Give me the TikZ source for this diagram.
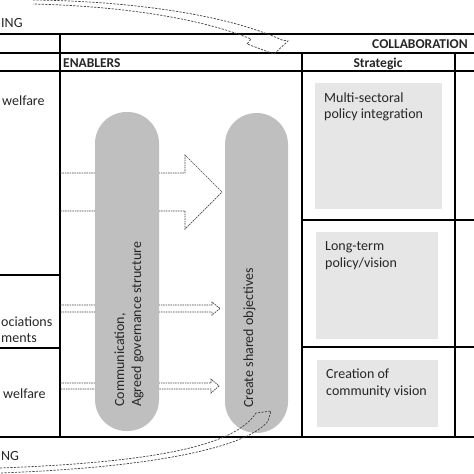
\documentclass[tikz,border=0pt]{standalone}
\usepackage{fontspec}
\setmainfont{Carlito}
\begin{document}
\begin{tikzpicture}[x=1pt,y=-1pt,
  grid/.style={line width=1.6pt, black},
  txt/.style={inner sep=0pt, anchor=base west, font=\fontsize{14}{16}\selectfont, text=black!85},
  hdr/.style={txt, font=\fontsize{13.5}{16}\selectfont\bfseries},
  pill/.style={fill=pillgray, rounded corners=31.5pt},
  boxc/.style={fill=boxgray, draw=none, inner sep=0pt, anchor=north west},
  dsh/.style={draw=black!75, line width=0.7pt, dash pattern=on 2.2pt off 1.3pt},
  dshf/.style={draw=black!75, line width=0.7pt, dash pattern=on 1.5pt off 0.9pt}]
\definecolor{pillgray}{HTML}{BFBFBF}
\definecolor{boxgray}{HTML}{E6E6E6}
\useasboundingbox (0,0) rectangle (474,474);
\fill[white] (0,0) rectangle (474,474);

% table grid
\draw[grid] (0,34) -- (474,34);
\draw[grid] (0,53) -- (474,53);
\draw[grid] (0,71) -- (474,71);
\draw[grid] (0,437) -- (474,437);
\draw[grid] (60,34) -- (60,437);
\draw[grid] (302,53) -- (302,437);
\draw[grid] (455,53) -- (455,437);
\draw[grid] (0,275) -- (60,275);
\draw[grid] (0,348) -- (60,348);
\draw[grid] (302,220) -- (474,220);
\draw[grid] (302,347) -- (474,347);

% headings
\node[txt] (plantop) at (1,27) {ING};
\node[txt] (planbot) at (1,460) {NG};
\node[hdr] (collab) at (372,48) {COLLABORATION};
\node[hdr] (enab) at (63,67) {ENABLERS};
\node[hdr, anchor=base] (strat) at (378,67) {Strategic};

% left column fragments
\node[txt] (w1) at (2,105) {welfare};
\node[txt] (as1) at (1,326) {ociations};
\node[txt] (as2) at (1,342) {ments};
\node[txt] (w2) at (3,398) {welfare};

% arrows (behind pills)
\draw[dshf] (60,173) -- (185,173) -- (185,155) -- (222,192) -- (185,229) -- (185,211) -- (60,211);
\draw[dshf] (60,305) -- (212,305) -- (212,302) -- (220,308.5) -- (212,315) -- (212,312) -- (60,312);
\draw[dshf] (60,383) -- (211,383) -- (211,379) -- (219,386) -- (211,393) -- (211,389) -- (60,389);

% pills
\path[pill] (95,112) rectangle (159,431);
\path[pill] (225,113) rectangle (288,433);
\node[txt, rotate=90] (comm1) at (124,407) {Communication,};
\node[txt, rotate=90] (comm2) at (141,407) {Agreed governance structure};
\node[txt, rotate=90] (shared) at (253,408) {Create shared objectives};

% strategic boxes
\node[boxc, minimum width=127pt, minimum height=126pt] (b1) at (315,83) {};
\node[boxc, minimum width=122pt, minimum height=107pt] (b2) at (316,232) {};
\node[boxc, minimum width=121pt, minimum height=67pt] (b3) at (317,360) {};
\node[txt] (t1a) at (324,102) {Multi-sectoral};
\node[txt] (t1b) at (324,118) {policy integration};
\node[txt] (t2a) at (325,250) {Long-term};
\node[txt] (t2b) at (325,267) {policy/vision};
\node[txt] (t3a) at (326,378) {Creation of};
\node[txt] (t3b) at (326,395) {community vision};

% curved dashed arrows
\draw[dsh] (33,0) .. controls (120,1) and (220,12) .. (282,40) -- (288,41) -- (274,54) -- (247,44) -- (251,39) .. controls (200,18) and (120,6) .. (33,4);
\draw[dsh] (0,468) .. controls (160,462) and (235,445) .. (256,413) -- (271,411) -- (268,421) .. controls (250,445) and (165,467) .. (0,473);
\end{tikzpicture}
\end{document}
